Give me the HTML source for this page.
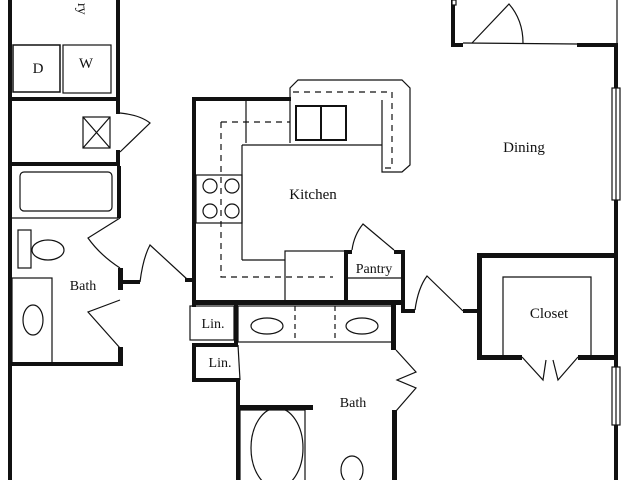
<!DOCTYPE html>
<html><head><style>html,body{margin:0;padding:0;background:#fff}svg{display:block}
text{font-family:"Liberation Serif",serif;fill:#111}</style></head><body>
<svg width="640" height="480" viewBox="0 0 640 480">
<g fill="#111">
<!-- left outer wall -->
<rect x="8" y="0" width="4" height="480"/>
<rect x="116" y="0" width="4" height="102"/>
<rect x="8" y="97" width="112" height="4"/>
<rect x="116" y="101" width="4" height="13"/>
<rect x="116" y="150" width="4" height="16"/>
<rect x="8" y="162" width="112" height="4"/>
<rect x="117" y="166" width="4" height="52"/>
<rect x="118" y="268" width="5" height="22"/>
<rect x="120" y="280" width="20" height="4"/>
<rect x="118" y="347" width="5" height="18"/>
<rect x="12" y="362" width="111" height="4"/>
<!-- kitchen walls -->
<rect x="192" y="97" width="4" height="210"/>
<rect x="192" y="97" width="99" height="4"/>
<rect x="185" y="278" width="8" height="4"/>
<rect x="192" y="300" width="210" height="5"/>
<rect x="344" y="250" width="4" height="52"/>
<rect x="344" y="250" width="8" height="4"/>
<rect x="394" y="250" width="11" height="4"/>
<rect x="401" y="250" width="4" height="62"/>
<rect x="401" y="309" width="14" height="4"/>
<rect x="391" y="300" width="5" height="50"/>
<rect x="392" y="410" width="5" height="70"/>
<!-- lin -->
<rect x="234" y="300" width="4" height="46"/>
<rect x="192" y="343" width="46" height="4"/>
<rect x="192" y="343" width="4" height="38"/>
<rect x="192" y="378" width="46" height="4"/>
<rect x="236" y="378" width="4" height="102"/>
<rect x="238" y="405" width="75" height="5"/>
<!-- dining -->
<rect x="451" y="0" width="4" height="47"/>
<rect x="451" y="43" width="12" height="4"/>
<rect x="577" y="43" width="41" height="4"/>
<rect x="614" y="43" width="4" height="437"/>
<rect x="463" y="309" width="15" height="4"/>
<rect x="477" y="253" width="141" height="5"/>
<rect x="477" y="253" width="5" height="107"/>
<rect x="477" y="355" width="45" height="5"/>
<rect x="578" y="355" width="40" height="5"/>
</g>
<g fill="none" stroke="#111" stroke-width="1.2">
<line x1="617" y1="0" x2="617" y2="43"/>
<rect x="612" y="88" width="8" height="112" fill="#fff"/><line x1="616" y1="88" x2="616" y2="200"/>
<rect x="612" y="367" width="8" height="58" fill="#fff"/><line x1="616" y1="367" x2="616" y2="425"/>
<line x1="463" y1="43" x2="577" y2="44"/>
<path d="M472,43 L509,4 Q523,20 523,43"/>
<rect x="452" y="0" width="4" height="5" fill="#fff"/>
<!-- laundry -->
<rect x="13" y="45" width="47" height="47" stroke-width="1.5"/>
<rect x="63" y="45" width="48" height="48"/>
<path d="M120,113 Q140,115 150,123 L120,152"/>
<rect x="83" y="117" width="27" height="31"/>
<path d="M83,117 L110,148 M110,117 L83,148"/>
<rect x="20" y="172" width="92" height="39" rx="4"/>
<line x1="12" y1="218" x2="118" y2="218"/>
<path d="M120,218 L88,238 Q100,255 120,268"/>
<path d="M120,300 L88,312 L120,348"/>
<rect x="18" y="230" width="13" height="38"/>
<ellipse cx="48" cy="250" rx="16" ry="10"/>
<rect x="12" y="278" width="40" height="86"/>
<ellipse cx="33" cy="320" rx="10" ry="15"/>
<path d="M140,282 Q143,258 150,245 L188,280"/>
<!-- kitchen -->
<path d="M290,100 L290,88 L298,80 L402,80 L410,88 L410,165 L402,172 L382,172 L382,100"/>
<line x1="246" y1="100" x2="246" y2="143"/>
<line x1="290" y1="100" x2="290" y2="143"/>
<line x1="242" y1="145" x2="382" y2="145"/>
<line x1="242" y1="145" x2="242" y2="260"/>
<line x1="242" y1="260" x2="285" y2="260"/>
<rect x="296" y="106" width="50" height="34" stroke-width="2"/>
<line x1="321" y1="106" x2="321" y2="140" stroke-width="2"/>
<rect x="196" y="175" width="46" height="48"/>
<circle cx="210" cy="186" r="7"/><circle cx="232" cy="186" r="7"/>
<circle cx="210" cy="211" r="7"/><circle cx="232" cy="211" r="7"/>
<rect x="285" y="251" width="60" height="50"/>
<line x1="348" y1="278" x2="401" y2="278"/>
<path d="M352,250 Q354,235 363,224 L394,250"/>
<g stroke-dasharray="6,5">
<path d="M221,122 L290,122"/><path d="M221,122 L221,277 L333,277"/>
<path d="M293,92 L392,92 L392,168 L385,168"/>
</g>
<!-- lin & vanity -->
<rect x="190" y="306" width="44" height="34"/>
<rect x="238" y="306" width="154" height="36"/>
<ellipse cx="267" cy="326" rx="16" ry="8"/>
<ellipse cx="362" cy="326" rx="16" ry="8"/>
<line x1="295" y1="306" x2="295" y2="342" stroke-dasharray="5,4"/>
<line x1="335" y1="306" x2="335" y2="342" stroke-dasharray="5,4"/>
<line x1="238" y1="345" x2="240" y2="380"/>
<path d="M396,350 L416,372 L397,380 L416,388 L396,411"/>
<rect x="240" y="410" width="65" height="75"/>
<ellipse cx="277" cy="448" rx="26" ry="40"/>
<ellipse cx="352" cy="470" rx="11" ry="14"/>
<!-- closet -->
<path d="M503,355 L503,277 L591,277 L591,355"/>
<path d="M522,357 L543,380 L546,360 M578,357 L558,380 L553,360"/>
<path d="M415,310 Q418,288 427,276 L463,311"/>
</g>
<text x="524" y="152" font-size="15" text-anchor="middle">Dining</text>
<text x="313" y="199" font-size="15" text-anchor="middle">Kitchen</text>
<text x="549" y="318" font-size="15" text-anchor="middle">Closet</text>
<text x="83" y="290" font-size="14" text-anchor="middle">Bath</text>
<text x="353" y="407" font-size="14" text-anchor="middle">Bath</text>
<text x="374" y="273" font-size="14" text-anchor="middle">Pantry</text>
<text x="213" y="328" font-size="14" text-anchor="middle">Lin.</text>
<text x="220" y="367" font-size="14" text-anchor="middle">Lin.</text>
<text x="38" y="73" font-size="15" font-family="Liberation Sans,sans-serif" text-anchor="middle">D</text>
<text x="86" y="68" font-size="15" font-family="Liberation Sans,sans-serif" text-anchor="middle">W</text>
<text x="0" y="0" font-size="14" transform="translate(78,3) rotate(90)">ry</text>
</svg>
</body></html>
